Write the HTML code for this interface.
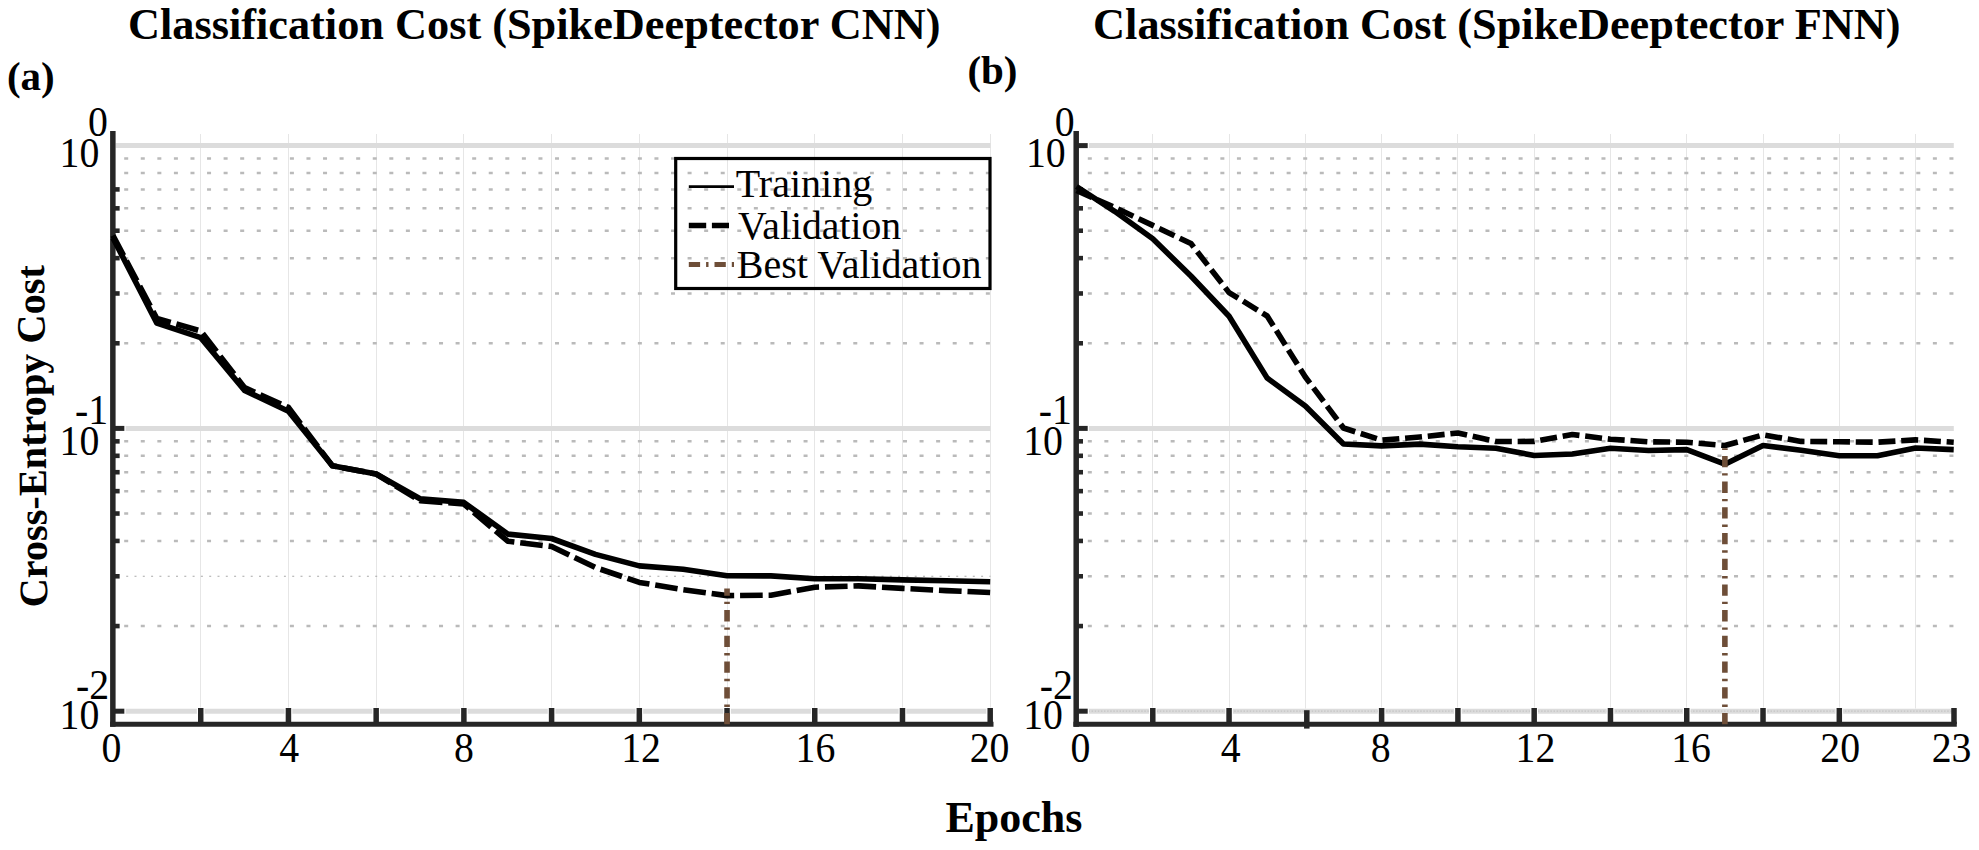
<!DOCTYPE html>
<html><head><meta charset="utf-8"><title>Classification Cost</title>
<style>html,body{margin:0;padding:0;background:#fff;overflow:hidden;width:1979px;height:850px;}svg{display:block;}</style>
</head><body>
<svg width="1979" height="850" viewBox="0 0 1979 850">
<rect width="1979" height="850" fill="#fff"/>
<line x1="200.50" y1="134" x2="200.50" y2="708.5" stroke="#e6e6e6" stroke-width="1"/>
<line x1="288.50" y1="134" x2="288.50" y2="708.5" stroke="#e6e6e6" stroke-width="1"/>
<line x1="376.50" y1="134" x2="376.50" y2="708.5" stroke="#e6e6e6" stroke-width="1"/>
<line x1="463.50" y1="134" x2="463.50" y2="708.5" stroke="#e6e6e6" stroke-width="1"/>
<line x1="551.50" y1="134" x2="551.50" y2="708.5" stroke="#e6e6e6" stroke-width="1"/>
<line x1="639.50" y1="134" x2="639.50" y2="708.5" stroke="#e6e6e6" stroke-width="1"/>
<line x1="727.50" y1="134" x2="727.50" y2="708.5" stroke="#e6e6e6" stroke-width="1"/>
<line x1="814.50" y1="134" x2="814.50" y2="708.5" stroke="#e6e6e6" stroke-width="1"/>
<line x1="902.50" y1="134" x2="902.50" y2="708.5" stroke="#e6e6e6" stroke-width="1"/>
<line x1="990.50" y1="134" x2="990.50" y2="708.5" stroke="#e6e6e6" stroke-width="1"/>
<line x1="115.55" y1="145.60" x2="990.50" y2="145.60" stroke="#dcdcdc" stroke-width="5"/>
<line x1="115.55" y1="428.40" x2="990.50" y2="428.40" stroke="#dcdcdc" stroke-width="5"/>
<line x1="115.55" y1="711.20" x2="990.50" y2="711.20" stroke="#dcdcdc" stroke-width="5"/>
<line x1="124.20" y1="343.27" x2="990.50" y2="343.27" stroke="#bababa" stroke-width="2.5" stroke-dasharray="4 12.57"/>
<line x1="124.20" y1="293.47" x2="990.50" y2="293.47" stroke="#bababa" stroke-width="2.5" stroke-dasharray="4 12.57"/>
<line x1="124.20" y1="258.14" x2="990.50" y2="258.14" stroke="#bababa" stroke-width="2.5" stroke-dasharray="4 12.57"/>
<line x1="124.20" y1="230.73" x2="990.50" y2="230.73" stroke="#bababa" stroke-width="2.5" stroke-dasharray="4 12.57"/>
<line x1="124.20" y1="208.34" x2="990.50" y2="208.34" stroke="#bababa" stroke-width="2.5" stroke-dasharray="4 12.57"/>
<line x1="124.20" y1="189.41" x2="990.50" y2="189.41" stroke="#bababa" stroke-width="2.5" stroke-dasharray="4 12.57"/>
<line x1="124.20" y1="173.01" x2="990.50" y2="173.01" stroke="#bababa" stroke-width="2.5" stroke-dasharray="4 12.57"/>
<line x1="124.20" y1="158.54" x2="990.50" y2="158.54" stroke="#bababa" stroke-width="2.5" stroke-dasharray="4 12.57"/>
<line x1="124.20" y1="626.07" x2="990.50" y2="626.07" stroke="#bababa" stroke-width="2.5" stroke-dasharray="4 12.57"/>
<line x1="126.20" y1="576.27" x2="990.50" y2="576.27" stroke="#a8a8a8" stroke-width="1.2" stroke-dasharray="2 6.3"/>
<line x1="124.20" y1="540.94" x2="990.50" y2="540.94" stroke="#bababa" stroke-width="2.5" stroke-dasharray="4 12.57"/>
<line x1="124.20" y1="513.53" x2="990.50" y2="513.53" stroke="#bababa" stroke-width="2.5" stroke-dasharray="4 12.57"/>
<line x1="124.20" y1="491.14" x2="990.50" y2="491.14" stroke="#bababa" stroke-width="2.5" stroke-dasharray="4 12.57"/>
<line x1="124.20" y1="472.21" x2="990.50" y2="472.21" stroke="#bababa" stroke-width="2.5" stroke-dasharray="4 12.57"/>
<line x1="124.20" y1="455.81" x2="990.50" y2="455.81" stroke="#bababa" stroke-width="2.5" stroke-dasharray="4 12.57"/>
<line x1="124.20" y1="441.34" x2="990.50" y2="441.34" stroke="#bababa" stroke-width="2.5" stroke-dasharray="4 12.57"/>
<line x1="200.72" y1="707.5" x2="200.72" y2="716" stroke="#fff" stroke-width="7.7"/>
<line x1="200.72" y1="708" x2="200.72" y2="724" stroke="#262626" stroke-width="5.5"/>
<line x1="288.44" y1="707.5" x2="288.44" y2="716" stroke="#fff" stroke-width="7.7"/>
<line x1="288.44" y1="708" x2="288.44" y2="724" stroke="#262626" stroke-width="5.5"/>
<line x1="376.16" y1="707.5" x2="376.16" y2="716" stroke="#fff" stroke-width="7.7"/>
<line x1="376.16" y1="708" x2="376.16" y2="724" stroke="#262626" stroke-width="5.5"/>
<line x1="463.88" y1="707.5" x2="463.88" y2="716" stroke="#fff" stroke-width="7.7"/>
<line x1="463.88" y1="708" x2="463.88" y2="724" stroke="#262626" stroke-width="5.5"/>
<line x1="551.60" y1="707.5" x2="551.60" y2="716" stroke="#fff" stroke-width="7.7"/>
<line x1="551.60" y1="708" x2="551.60" y2="724" stroke="#262626" stroke-width="5.5"/>
<line x1="639.32" y1="707.5" x2="639.32" y2="716" stroke="#fff" stroke-width="7.7"/>
<line x1="639.32" y1="708" x2="639.32" y2="724" stroke="#262626" stroke-width="5.5"/>
<line x1="727.04" y1="707.5" x2="727.04" y2="716" stroke="#fff" stroke-width="7.7"/>
<line x1="727.04" y1="708" x2="727.04" y2="724" stroke="#262626" stroke-width="5.5"/>
<line x1="814.76" y1="707.5" x2="814.76" y2="716" stroke="#fff" stroke-width="7.7"/>
<line x1="814.76" y1="708" x2="814.76" y2="724" stroke="#262626" stroke-width="5.5"/>
<line x1="902.48" y1="707.5" x2="902.48" y2="716" stroke="#fff" stroke-width="7.7"/>
<line x1="902.48" y1="708" x2="902.48" y2="724" stroke="#262626" stroke-width="5.5"/>
<line x1="990.20" y1="707.5" x2="990.20" y2="716" stroke="#fff" stroke-width="7.7"/>
<line x1="990.20" y1="708" x2="990.20" y2="724" stroke="#262626" stroke-width="5.5"/>
<line x1="112.85" y1="343.27" x2="119.65" y2="343.27" stroke="#262626" stroke-width="4.6"/>
<line x1="112.85" y1="293.47" x2="119.65" y2="293.47" stroke="#262626" stroke-width="4.6"/>
<line x1="112.85" y1="258.14" x2="119.65" y2="258.14" stroke="#262626" stroke-width="4.6"/>
<line x1="112.85" y1="230.73" x2="119.65" y2="230.73" stroke="#262626" stroke-width="4.6"/>
<line x1="112.85" y1="208.34" x2="119.65" y2="208.34" stroke="#262626" stroke-width="4.6"/>
<line x1="112.85" y1="189.41" x2="119.65" y2="189.41" stroke="#262626" stroke-width="4.6"/>
<line x1="112.85" y1="626.07" x2="119.65" y2="626.07" stroke="#262626" stroke-width="4.6"/>
<line x1="112.85" y1="576.27" x2="119.65" y2="576.27" stroke="#262626" stroke-width="4.6"/>
<line x1="112.85" y1="540.94" x2="119.65" y2="540.94" stroke="#262626" stroke-width="4.6"/>
<line x1="112.85" y1="513.53" x2="119.65" y2="513.53" stroke="#262626" stroke-width="4.6"/>
<line x1="112.85" y1="491.14" x2="119.65" y2="491.14" stroke="#262626" stroke-width="4.6"/>
<line x1="112.85" y1="472.21" x2="119.65" y2="472.21" stroke="#262626" stroke-width="4.6"/>
<line x1="112.85" y1="455.81" x2="119.65" y2="455.81" stroke="#262626" stroke-width="4.6"/>
<line x1="112.85" y1="441.34" x2="119.65" y2="441.34" stroke="#262626" stroke-width="4.6"/>
<line x1="112.85" y1="428.40" x2="125.65" y2="428.40" stroke="#fff" stroke-width="5.5"/>
<line x1="112.85" y1="428.40" x2="124.35" y2="428.40" stroke="#262626" stroke-width="5"/>
<line x1="112.85" y1="711.20" x2="125.65" y2="711.20" stroke="#fff" stroke-width="5.5"/>
<line x1="112.85" y1="711.20" x2="124.35" y2="711.20" stroke="#262626" stroke-width="5"/>
<line x1="112.85" y1="131" x2="112.85" y2="726.7" stroke="#262626" stroke-width="5.5"/>
<line x1="110.10" y1="724.2" x2="993.50" y2="724.2" stroke="#262626" stroke-width="5"/>
<polyline points="113.00,238.00 156.86,323.20 200.72,337.60 244.58,390.50 288.44,411.20 332.30,465.80 376.16,474.00 420.02,498.80 463.88,502.40 507.74,534.10 551.60,538.50 595.46,554.40 639.32,565.90 683.18,569.20 727.04,575.80 770.90,575.90 814.76,578.80 858.62,578.80 902.48,579.90 946.34,580.70 990.20,581.80" fill="none" stroke="#000" stroke-width="5.6" stroke-linejoin="round"/>
<polyline points="113.00,235.50 156.86,318.50 200.72,331.00 244.58,387.60 288.44,407.40 332.30,465.80 376.16,474.00 420.02,500.70 463.88,504.00 507.74,541.20 551.60,546.50 595.46,567.50 639.32,582.40 683.18,589.80 727.04,595.60 770.90,595.20 814.76,587.20 858.62,585.90 902.48,588.40 946.34,590.60 990.20,592.50" fill="none" stroke="#000" stroke-width="5.6" stroke-dasharray="22.65 5.89" stroke-linejoin="round"/>
<line x1="727.04" y1="724.2" x2="727.04" y2="588.50" stroke="#6e4e38" stroke-width="5.6" stroke-dasharray="11.3 6 2.4 6"/>
<line x1="1152.50" y1="134" x2="1152.50" y2="708.5" stroke="#e6e6e6" stroke-width="1"/>
<line x1="1229.50" y1="134" x2="1229.50" y2="708.5" stroke="#e6e6e6" stroke-width="1"/>
<line x1="1305.50" y1="134" x2="1305.50" y2="708.5" stroke="#e6e6e6" stroke-width="1"/>
<line x1="1381.50" y1="134" x2="1381.50" y2="708.5" stroke="#e6e6e6" stroke-width="1"/>
<line x1="1457.50" y1="134" x2="1457.50" y2="708.5" stroke="#e6e6e6" stroke-width="1"/>
<line x1="1534.50" y1="134" x2="1534.50" y2="708.5" stroke="#e6e6e6" stroke-width="1"/>
<line x1="1610.50" y1="134" x2="1610.50" y2="708.5" stroke="#e6e6e6" stroke-width="1"/>
<line x1="1686.50" y1="134" x2="1686.50" y2="708.5" stroke="#e6e6e6" stroke-width="1"/>
<line x1="1763.50" y1="134" x2="1763.50" y2="708.5" stroke="#e6e6e6" stroke-width="1"/>
<line x1="1839.50" y1="134" x2="1839.50" y2="708.5" stroke="#e6e6e6" stroke-width="1"/>
<line x1="1915.50" y1="134" x2="1915.50" y2="708.5" stroke="#e6e6e6" stroke-width="1"/>
<line x1="1078.90" y1="145.60" x2="1953.80" y2="145.60" stroke="#dcdcdc" stroke-width="5"/>
<line x1="1078.90" y1="428.40" x2="1953.80" y2="428.40" stroke="#dcdcdc" stroke-width="5"/>
<line x1="1078.90" y1="711.20" x2="1953.80" y2="711.20" stroke="#dcdcdc" stroke-width="5"/>
<line x1="1079.20" y1="711.20" x2="1953.80" y2="711.20" stroke="#c4c4c4" stroke-width="1.2" stroke-dasharray="1.5 1.6"/>
<line x1="1087.80" y1="343.27" x2="1953.80" y2="343.27" stroke="#bababa" stroke-width="2.5" stroke-dasharray="4 12.57"/>
<line x1="1087.80" y1="293.47" x2="1953.80" y2="293.47" stroke="#bababa" stroke-width="2.5" stroke-dasharray="4 12.57"/>
<line x1="1087.80" y1="258.14" x2="1953.80" y2="258.14" stroke="#bababa" stroke-width="2.5" stroke-dasharray="4 12.57"/>
<line x1="1087.80" y1="230.73" x2="1953.80" y2="230.73" stroke="#bababa" stroke-width="2.5" stroke-dasharray="4 12.57"/>
<line x1="1087.80" y1="208.34" x2="1953.80" y2="208.34" stroke="#bababa" stroke-width="2.5" stroke-dasharray="4 12.57"/>
<line x1="1087.80" y1="189.41" x2="1953.80" y2="189.41" stroke="#bababa" stroke-width="2.5" stroke-dasharray="4 12.57"/>
<line x1="1087.80" y1="173.01" x2="1953.80" y2="173.01" stroke="#bababa" stroke-width="2.5" stroke-dasharray="4 12.57"/>
<line x1="1087.80" y1="158.54" x2="1953.80" y2="158.54" stroke="#bababa" stroke-width="2.5" stroke-dasharray="4 12.57"/>
<line x1="1087.80" y1="626.07" x2="1953.80" y2="626.07" stroke="#bababa" stroke-width="2.5" stroke-dasharray="4 12.57"/>
<line x1="1087.80" y1="576.27" x2="1953.80" y2="576.27" stroke="#bababa" stroke-width="2.5" stroke-dasharray="4 12.57"/>
<line x1="1087.80" y1="540.94" x2="1953.80" y2="540.94" stroke="#bababa" stroke-width="2.5" stroke-dasharray="4 12.57"/>
<line x1="1087.80" y1="513.53" x2="1953.80" y2="513.53" stroke="#bababa" stroke-width="2.5" stroke-dasharray="4 12.57"/>
<line x1="1087.80" y1="491.14" x2="1953.80" y2="491.14" stroke="#bababa" stroke-width="2.5" stroke-dasharray="4 12.57"/>
<line x1="1087.80" y1="472.21" x2="1953.80" y2="472.21" stroke="#bababa" stroke-width="2.5" stroke-dasharray="4 12.57"/>
<line x1="1087.80" y1="455.81" x2="1953.80" y2="455.81" stroke="#bababa" stroke-width="2.5" stroke-dasharray="4 12.57"/>
<line x1="1087.80" y1="441.34" x2="1953.80" y2="441.34" stroke="#bababa" stroke-width="2.5" stroke-dasharray="4 12.57"/>
<line x1="1152.78" y1="707.5" x2="1152.78" y2="716" stroke="#fff" stroke-width="7.7"/>
<line x1="1152.78" y1="708" x2="1152.78" y2="724" stroke="#262626" stroke-width="5.5"/>
<line x1="1229.06" y1="707.5" x2="1229.06" y2="716" stroke="#fff" stroke-width="7.7"/>
<line x1="1229.06" y1="708" x2="1229.06" y2="724" stroke="#262626" stroke-width="5.5"/>
<line x1="1381.62" y1="707.5" x2="1381.62" y2="716" stroke="#fff" stroke-width="7.7"/>
<line x1="1381.62" y1="708" x2="1381.62" y2="724" stroke="#262626" stroke-width="5.5"/>
<line x1="1457.90" y1="707.5" x2="1457.90" y2="716" stroke="#fff" stroke-width="7.7"/>
<line x1="1457.90" y1="708" x2="1457.90" y2="724" stroke="#262626" stroke-width="5.5"/>
<line x1="1534.18" y1="707.5" x2="1534.18" y2="716" stroke="#fff" stroke-width="7.7"/>
<line x1="1534.18" y1="708" x2="1534.18" y2="724" stroke="#262626" stroke-width="5.5"/>
<line x1="1610.46" y1="707.5" x2="1610.46" y2="716" stroke="#fff" stroke-width="7.7"/>
<line x1="1610.46" y1="708" x2="1610.46" y2="724" stroke="#262626" stroke-width="5.5"/>
<line x1="1686.74" y1="707.5" x2="1686.74" y2="716" stroke="#fff" stroke-width="7.7"/>
<line x1="1686.74" y1="708" x2="1686.74" y2="724" stroke="#262626" stroke-width="5.5"/>
<line x1="1763.02" y1="707.5" x2="1763.02" y2="716" stroke="#fff" stroke-width="7.7"/>
<line x1="1763.02" y1="708" x2="1763.02" y2="724" stroke="#262626" stroke-width="5.5"/>
<line x1="1839.30" y1="707.5" x2="1839.30" y2="716" stroke="#fff" stroke-width="7.7"/>
<line x1="1839.30" y1="708" x2="1839.30" y2="724" stroke="#262626" stroke-width="5.5"/>
<line x1="1306.80" y1="710.2" x2="1306.80" y2="728.6" stroke="#262626" stroke-width="5.5"/>
<line x1="1076.20" y1="343.27" x2="1083.00" y2="343.27" stroke="#262626" stroke-width="4.6"/>
<line x1="1076.20" y1="293.47" x2="1083.00" y2="293.47" stroke="#262626" stroke-width="4.6"/>
<line x1="1076.20" y1="258.14" x2="1083.00" y2="258.14" stroke="#262626" stroke-width="4.6"/>
<line x1="1076.20" y1="230.73" x2="1083.00" y2="230.73" stroke="#262626" stroke-width="4.6"/>
<line x1="1076.20" y1="208.34" x2="1083.00" y2="208.34" stroke="#262626" stroke-width="4.6"/>
<line x1="1076.20" y1="189.41" x2="1083.00" y2="189.41" stroke="#262626" stroke-width="4.6"/>
<line x1="1076.20" y1="626.07" x2="1083.00" y2="626.07" stroke="#262626" stroke-width="4.6"/>
<line x1="1076.20" y1="576.27" x2="1083.00" y2="576.27" stroke="#262626" stroke-width="4.6"/>
<line x1="1076.20" y1="540.94" x2="1083.00" y2="540.94" stroke="#262626" stroke-width="4.6"/>
<line x1="1076.20" y1="513.53" x2="1083.00" y2="513.53" stroke="#262626" stroke-width="4.6"/>
<line x1="1076.20" y1="491.14" x2="1083.00" y2="491.14" stroke="#262626" stroke-width="4.6"/>
<line x1="1076.20" y1="472.21" x2="1083.00" y2="472.21" stroke="#262626" stroke-width="4.6"/>
<line x1="1076.20" y1="455.81" x2="1083.00" y2="455.81" stroke="#262626" stroke-width="4.6"/>
<line x1="1076.20" y1="441.34" x2="1083.00" y2="441.34" stroke="#262626" stroke-width="4.6"/>
<line x1="1076.20" y1="145.60" x2="1089.00" y2="145.60" stroke="#fff" stroke-width="5.5"/>
<line x1="1076.20" y1="145.60" x2="1087.70" y2="145.60" stroke="#262626" stroke-width="5"/>
<line x1="1076.20" y1="428.40" x2="1089.00" y2="428.40" stroke="#fff" stroke-width="5.5"/>
<line x1="1076.20" y1="428.40" x2="1087.70" y2="428.40" stroke="#262626" stroke-width="5"/>
<line x1="1076.20" y1="711.20" x2="1089.00" y2="711.20" stroke="#fff" stroke-width="5.5"/>
<line x1="1076.20" y1="711.20" x2="1087.70" y2="711.20" stroke="#262626" stroke-width="5"/>
<line x1="1076.20" y1="131" x2="1076.20" y2="726.7" stroke="#262626" stroke-width="5.5"/>
<line x1="1073.45" y1="724.2" x2="1956.80" y2="724.2" stroke="#262626" stroke-width="5"/>
<polyline points="1076.50,186.50 1114.64,211.30 1152.78,238.80 1190.92,276.00 1229.06,316.20 1267.20,378.10 1305.34,406.00 1343.48,444.00 1381.62,445.90 1419.76,444.10 1457.90,446.80 1496.04,448.20 1534.18,455.50 1572.32,454.00 1610.46,448.30 1648.60,450.50 1686.74,449.60 1724.88,464.20 1763.02,445.50 1801.16,450.20 1839.30,455.80 1877.44,455.80 1915.58,448.00 1953.72,449.60" fill="none" stroke="#000" stroke-width="5.6" stroke-linejoin="round"/>
<polyline points="1076.50,190.50 1114.64,207.50 1152.78,225.40 1190.92,243.50 1229.06,292.60 1267.20,316.00 1305.34,377.00 1343.48,428.00 1381.62,440.20 1419.76,437.00 1457.90,433.00 1496.04,441.50 1534.18,441.40 1572.32,434.50 1610.46,439.20 1648.60,441.80 1686.74,442.20 1724.88,445.50 1763.02,434.90 1801.16,441.40 1839.30,441.80 1877.44,442.20 1915.58,439.90 1953.72,442.20" fill="none" stroke="#000" stroke-width="5.6" stroke-dasharray="16.95 5.8" stroke-linejoin="round"/>
<line x1="1724.88" y1="724.2" x2="1724.88" y2="448.30" stroke="#6e4e38" stroke-width="5.6" stroke-dasharray="11.3 6 2.4 6"/>
<line x1="1954" y1="708" x2="1954" y2="724" stroke="#262626" stroke-width="5.5"/>
<rect x="675.7" y="158.5" width="314.3" height="130" fill="none" stroke="#000" stroke-width="3.2"/>
<line x1="688.8" y1="186.7" x2="734" y2="186.7" stroke="#000" stroke-width="2.8"/>
<line x1="688.8" y1="225.5" x2="729" y2="225.5" stroke="#000" stroke-width="5.4" stroke-dasharray="17.4 5.7"/>
<line x1="688.8" y1="264.5" x2="734" y2="264.5" stroke="#6e4e38" stroke-width="5.2" stroke-dasharray="11.3 6 2.4 6"/>
<text x="735.8" y="197" font-family='"Liberation Serif", serif' font-size="40">Training</text>
<text x="738" y="238.9" font-family='"Liberation Serif", serif' font-size="39.7">Validation</text>
<text x="736.8" y="277.7" font-family='"Liberation Serif", serif' font-size="40">Best Validation</text>
<text x="128" y="39" font-family='"Liberation Serif", serif' font-size="44.3" font-weight="bold">Classification Cost (SpikeDeeptector CNN)</text>
<text x="1093.1" y="39.2" font-family='"Liberation Serif", serif' font-size="44.3" font-weight="bold">Classification Cost (SpikeDeeptector FNN)</text>
<text x="6.95" y="90.2" font-family='"Liberation Serif", serif' font-size="41" font-weight="bold">(a)</text>
<text x="967.4" y="83.8" font-family='"Liberation Serif", serif' font-size="41" font-weight="bold">(b)</text>
<text x="945.5" y="831.8" font-family='"Liberation Serif", serif' font-size="44" font-weight="bold">Epochs</text>
<text transform="translate(47.3,607.3) rotate(-90.56)" font-family='"Liberation Serif", serif' font-size="40.3" font-weight="bold">Cross-Entropy Cost</text>
<text transform="translate(99.34,166.60) scale(0.97,1.05)" font-family='"Liberation Serif", serif' font-size="41" text-anchor="end">10</text>
<text transform="translate(107.79,136.20) scale(0.97,1.05)" font-family='"Liberation Serif", serif' font-size="41" text-anchor="end">0</text>
<text transform="translate(99.34,454.60) scale(0.97,1.05)" font-family='"Liberation Serif", serif' font-size="41" text-anchor="end">10</text>
<text transform="translate(108.24,424.30) scale(0.97,1.05)" font-family='"Liberation Serif", serif' font-size="41" text-anchor="end">-1</text>
<text transform="translate(99.34,729.30) scale(0.97,1.05)" font-family='"Liberation Serif", serif' font-size="41" text-anchor="end">10</text>
<text transform="translate(109.19,698.70) scale(0.97,1.05)" font-family='"Liberation Serif", serif' font-size="41" text-anchor="end">-2</text>
<text transform="translate(1065.69,166.60) scale(0.97,1.05)" font-family='"Liberation Serif", serif' font-size="41" text-anchor="end">10</text>
<text transform="translate(1074.69,136.20) scale(0.97,1.05)" font-family='"Liberation Serif", serif' font-size="41" text-anchor="end">0</text>
<text transform="translate(1062.99,454.60) scale(0.97,1.05)" font-family='"Liberation Serif", serif' font-size="41" text-anchor="end">10</text>
<text transform="translate(1071.94,424.30) scale(0.97,1.05)" font-family='"Liberation Serif", serif' font-size="41" text-anchor="end">-1</text>
<text transform="translate(1062.99,729.30) scale(0.97,1.05)" font-family='"Liberation Serif", serif' font-size="41" text-anchor="end">10</text>
<text transform="translate(1072.99,698.70) scale(0.97,1.05)" font-family='"Liberation Serif", serif' font-size="41" text-anchor="end">-2</text>
<text transform="translate(111.40,762.00) scale(0.97,1.05)" font-family='"Liberation Serif", serif' font-size="41" text-anchor="middle">0</text>
<text transform="translate(289.30,762.00) scale(0.97,1.05)" font-family='"Liberation Serif", serif' font-size="41" text-anchor="middle">4</text>
<text transform="translate(464.00,762.00) scale(0.97,1.05)" font-family='"Liberation Serif", serif' font-size="41" text-anchor="middle">8</text>
<text transform="translate(641.10,762.00) scale(0.97,1.05)" font-family='"Liberation Serif", serif' font-size="41" text-anchor="middle">12</text>
<text transform="translate(815.50,762.00) scale(0.97,1.05)" font-family='"Liberation Serif", serif' font-size="41" text-anchor="middle">16</text>
<text transform="translate(989.60,762.00) scale(0.97,1.05)" font-family='"Liberation Serif", serif' font-size="41" text-anchor="middle">20</text>
<text transform="translate(1080.50,762.00) scale(0.97,1.05)" font-family='"Liberation Serif", serif' font-size="41" text-anchor="middle">0</text>
<text transform="translate(1230.80,762.00) scale(0.97,1.05)" font-family='"Liberation Serif", serif' font-size="41" text-anchor="middle">4</text>
<text transform="translate(1380.80,762.00) scale(0.97,1.05)" font-family='"Liberation Serif", serif' font-size="41" text-anchor="middle">8</text>
<text transform="translate(1535.40,762.00) scale(0.97,1.05)" font-family='"Liberation Serif", serif' font-size="41" text-anchor="middle">12</text>
<text transform="translate(1691.10,762.00) scale(0.97,1.05)" font-family='"Liberation Serif", serif' font-size="41" text-anchor="middle">16</text>
<text transform="translate(1840.20,762.00) scale(0.97,1.05)" font-family='"Liberation Serif", serif' font-size="41" text-anchor="middle">20</text>
<text transform="translate(1951.60,762.00) scale(0.97,1.05)" font-family='"Liberation Serif", serif' font-size="41" text-anchor="middle">23</text>
</svg>
</body></html>
